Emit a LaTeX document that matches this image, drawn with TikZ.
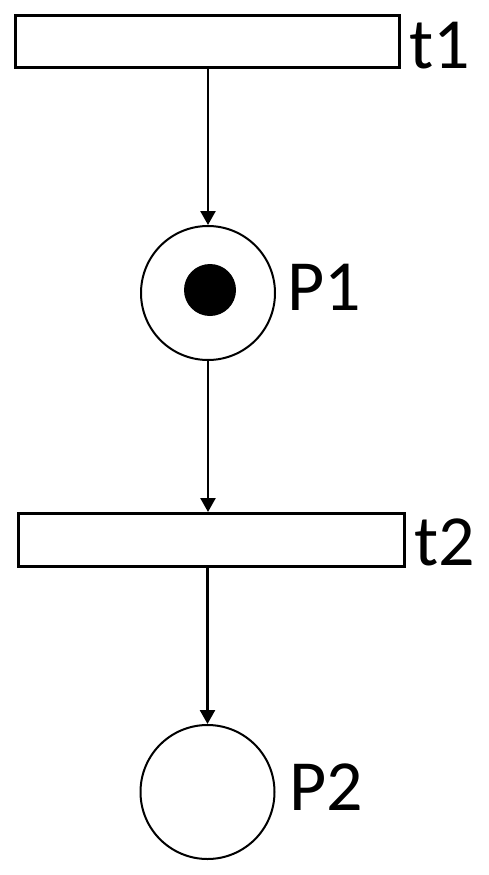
\documentclass[tikz,border=0pt]{standalone}
\usepackage{fontspec}
\setmainfont{Carlito}
\usetikzlibrary{arrows.meta}
\tikzset{
  trans/.style={draw,line width=3pt,rectangle,inner sep=0pt},
  place/.style={draw,line width=2pt,circle,inner sep=0pt,minimum size=134pt},
  token/.style={fill,circle,inner sep=0pt,minimum size=52pt},
  arc/.style={line width=2.5pt,-{Triangle[width=15pt,length=14pt]}},
  lab/.style={anchor=base west,inner sep=0pt,font=\fontsize{72}{80}\selectfont}
}
\begin{document}
\begin{tikzpicture}[x=1pt,y=-1pt]
  \useasboundingbox (0,0) rectangle (488,875);
  \node[trans,minimum width=384pt,minimum height=52pt] (t1) at (207.5,41.5) {};
  \node[lab] (t1lab) at (409,69) {t1};
  \node[place] (P1) at (208,293) {};
  \node[token] (tok) at (210,290) {};
  \node[lab] (P1lab) at (287,310) {P1};
  \node[trans,minimum width=386pt,minimum height=53pt] (t2) at (211.5,540) {};
  \node[lab] (t2lab) at (414,565) {t2};
  \node[place] (P2) at (207.5,792) {};
  \node[lab] (P2lab) at (289,810) {P2};
%  arcs
  \draw[arc] (t1.south -| P1) -- (P1.north);
  \draw[arc] (P1.south) -- (P1.south |- t2.north);
  \draw[arc] (t2.south -| P2) -- (P2.north);
\end{tikzpicture}
\end{document}
